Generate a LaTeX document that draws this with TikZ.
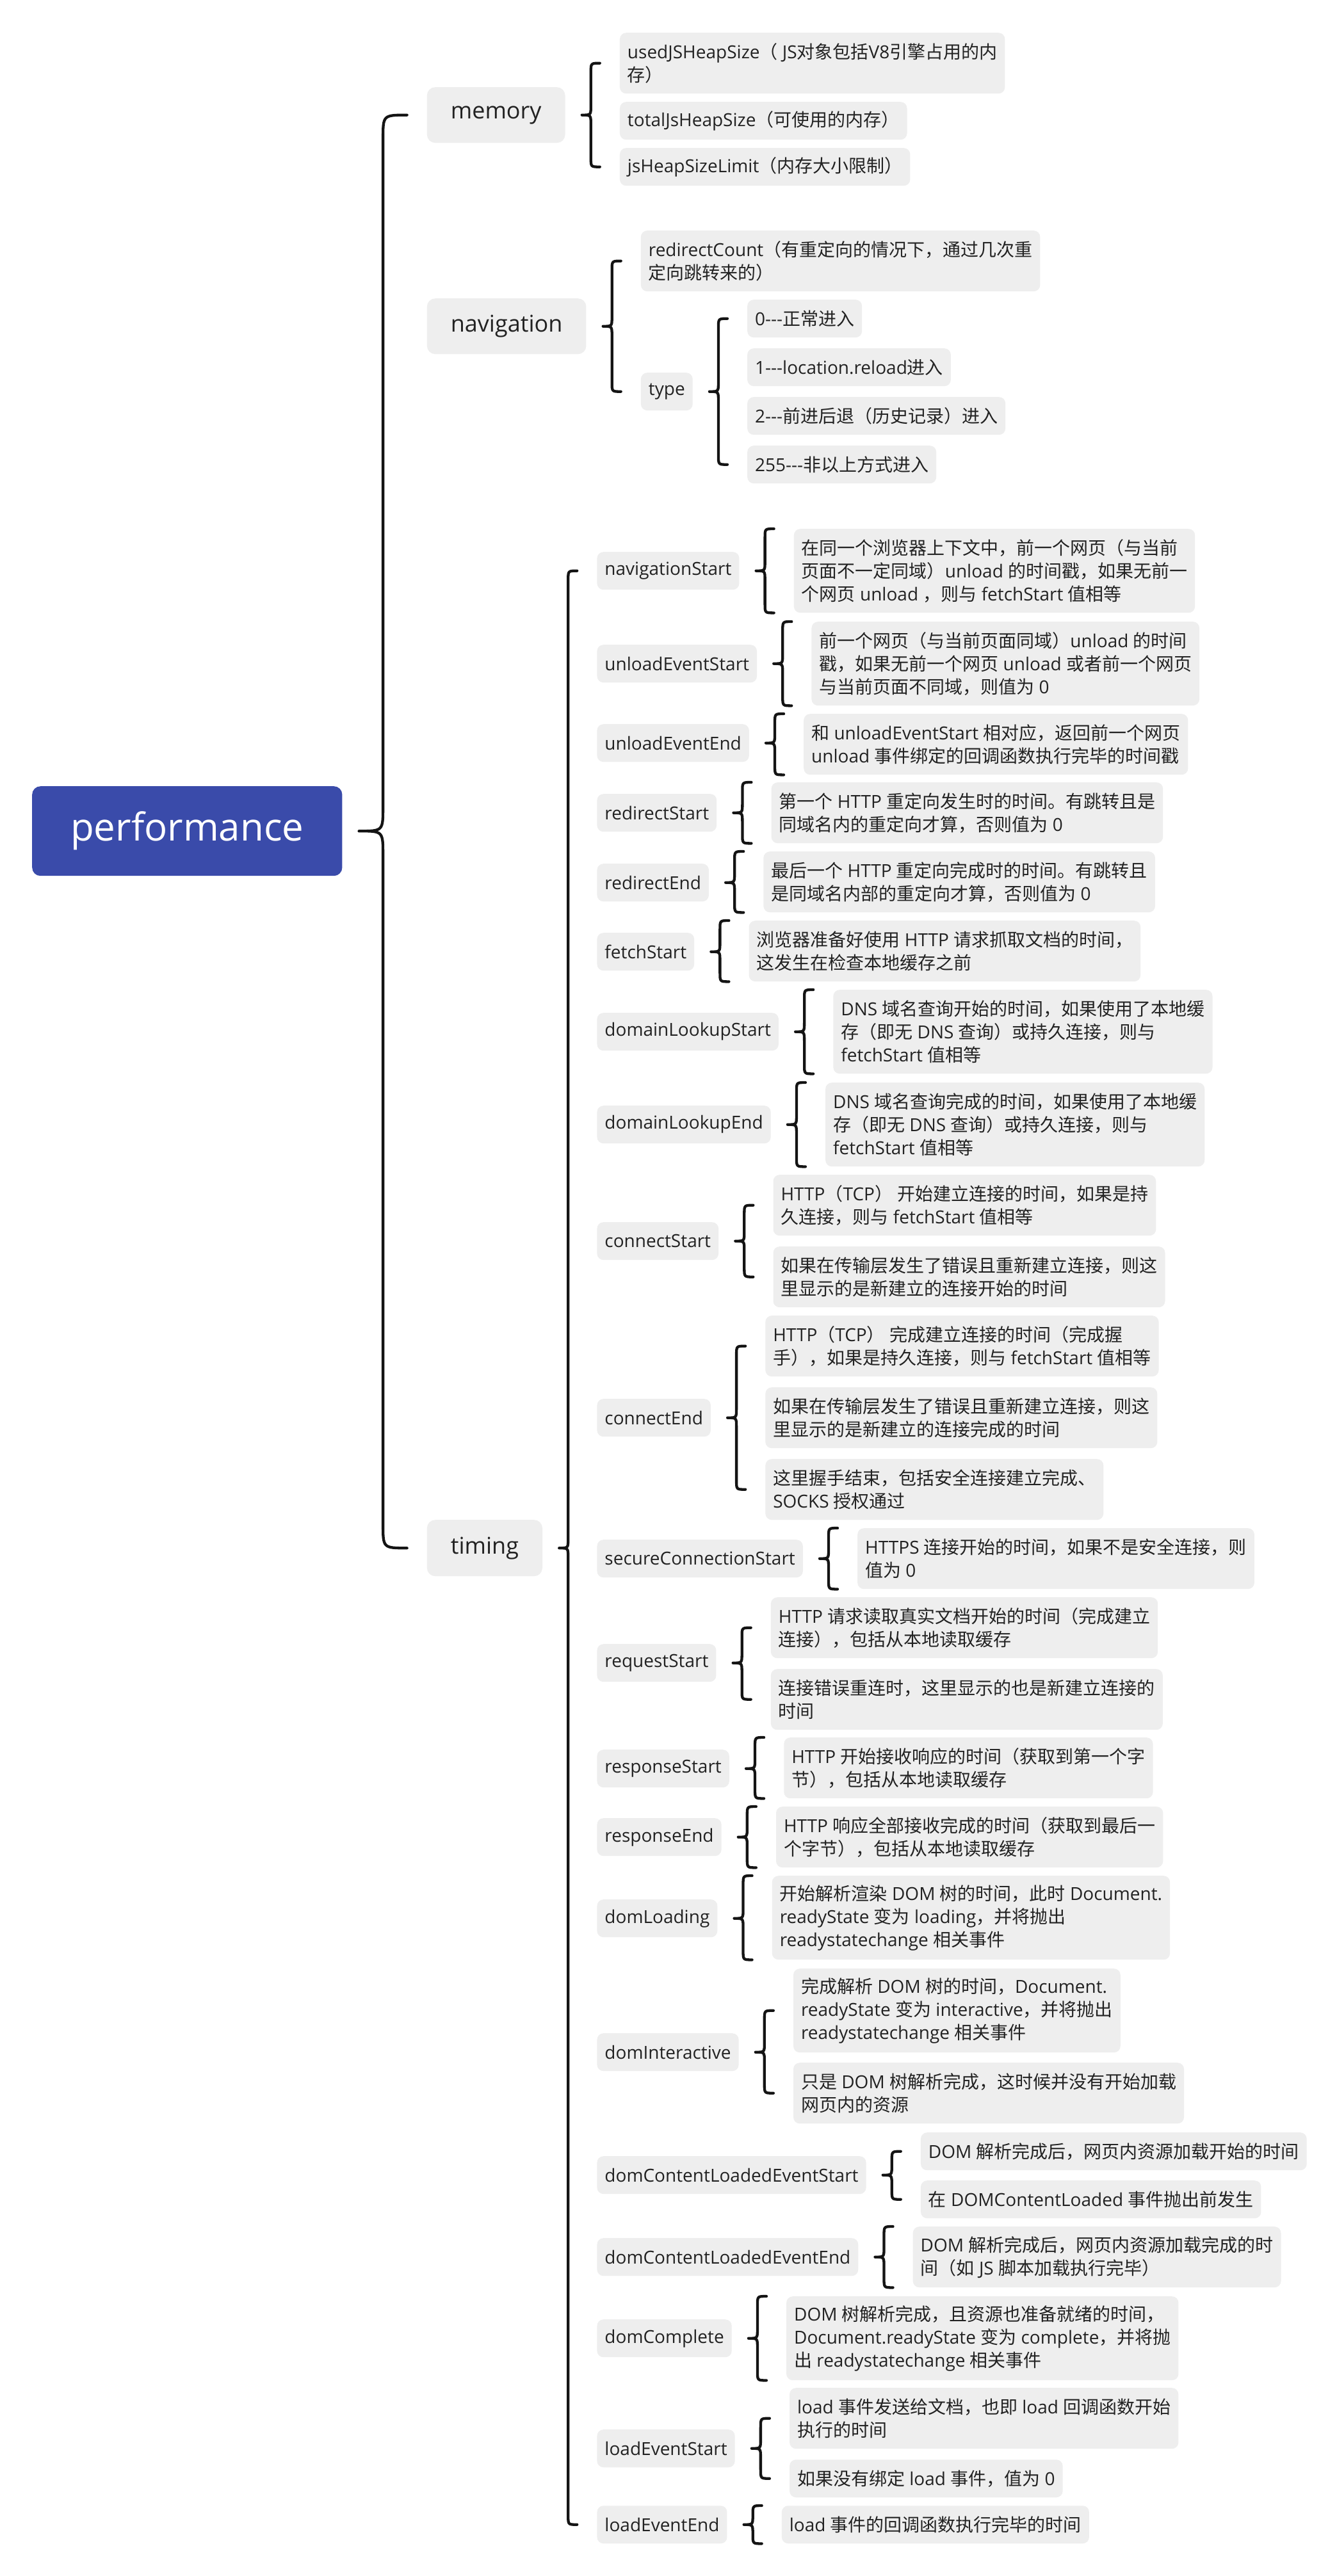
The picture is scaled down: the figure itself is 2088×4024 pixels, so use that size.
\documentclass[tikz,border=0pt]{standalone}
\usepackage{fontspec}
\newfontfamily\latf{Open Sans}
\newfontfamily\cjkf{Noto Sans CJK SC}
\XeTeXinterchartokenstate=1
\newXeTeXintercharclass\cjkcls
\newcount\cjkcnt
\cjkcnt="3000 \loop\XeTeXcharclass\cjkcnt=\cjkcls\advance\cjkcnt by 1 \ifnum\cjkcnt<"3040 \repeat
\cjkcnt="4E00 \loop\XeTeXcharclass\cjkcnt=\cjkcls\advance\cjkcnt by 1 \ifnum\cjkcnt<"A000 \repeat
\cjkcnt="FF00 \loop\XeTeXcharclass\cjkcnt=\cjkcls\advance\cjkcnt by 1 \ifnum\cjkcnt<"FFF0 \repeat
\XeTeXinterchartoks 0 \cjkcls = {\cjkf}
\XeTeXinterchartoks 4095 \cjkcls = {\cjkf}
\XeTeXinterchartoks \cjkcls 0 = {\latf}
\XeTeXinterchartoks \cjkcls 4095 = {\latf}

\definecolor{lfc}{RGB}{238,238,238}
\definecolor{txc}{RGB}{34,34,34}
\definecolor{rootc}{RGB}{58,75,170}
\definecolor{brcc}{RGB}{20,20,20}

\tikzset{
  basebox/.style={rounded corners=10pt, fill=lfc, text=txc, align=left, inner ysep=0pt,
    font=\fontsize{28}{36}\selectfont\latf},
  leaf/.style={basebox, inner xsep=12pt},
  keybox/.style={basebox, inner xsep=12pt, align=center},
  lone/.style={basebox, inner xsep=37pt, rounded corners=13pt, align=center,
    font=\fontsize{36}{44}\selectfont\latf},
  rootbox/.style={rounded corners=13pt, fill=rootc, text=white, inner xsep=60pt, inner ysep=0pt,
    font=\fontsize{60}{70}\selectfont\latf},
  bracestyle/.style={draw=brcc, line width=4.3pt, line cap=round, line join=round},
}

\newdimen\tmpx \newdimen\tmpy
\def\bgapa{26}\def\bgapb{31}

% generic placement: style, name, parent, gap, ytop, height, text
\newcommand\place[7][leaf]{%
  \pgfextractx{\tmpx}{\pgfpointanchor{#3}{east}}%
  \pgfmathsetmacro\nodexx{\tmpx+#4}%
  \node[#1,minimum height=#6pt,anchor=north west] (#2) at (\nodexx pt,-#5pt) {#7};}
% leaf: style, name, parent, ytop, lines, text
\newcommand\lf[6][leaf]{\pgfmathsetmacro\lfh{23+36*#5}\place[#1]{#2}{#3}{85}{#4}{\lfh}{#6}}

% brace: opts, parent, top node, top anchor, bottom node, bottom anchor
\newcommand\brc[6][]{%
  \pgfextractx{\tmpx}{\pgfpointanchor{#2}{east}}\pgfmathsetmacro\bzpx{\tmpx}%
  \pgfextracty{\tmpy}{\pgfpointanchor{#2}{east}}\pgfmathsetmacro\bzcy{\tmpy}%
  \pgfextractx{\tmpx}{\pgfpointanchor{#3}{#4}}\pgfmathsetmacro\bzqx{\tmpx}%
  \pgfextracty{\tmpy}{\pgfpointanchor{#3}{#4}}\pgfmathsetmacro\bzty{\tmpy}%
  \pgfextracty{\tmpy}{\pgfpointanchor{#5}{#6}}\pgfmathsetmacro\bzby{\tmpy}%
  \pgfmathsetmacro\bzxa{\bzpx+\bgapa}%
  \pgfmathsetmacro\bzxe{\bzqx-\bgapb}%
  \pgfmathsetmacro\bzxm{(\bzxa+\bzxe)/2}%
  \pgfmathsetmacro\bzr{min((\bzxe-\bzxa)/2,(\bzty-\bzcy)/2,(\bzcy-\bzby)/2)}%
  \pgfmathsetmacro\bzya{\bzty-\bzr}\pgfmathsetmacro\bzyb{\bzcy+\bzr}%
  \pgfmathsetmacro\bzyc{\bzcy-\bzr}\pgfmathsetmacro\bzyd{\bzby+\bzr}%
  \draw[bracestyle,#1] (\bzxe pt,\bzty pt) .. controls (\bzxm pt,\bzty pt) .. (\bzxm pt,\bzya pt)
    -- (\bzxm pt,\bzyb pt) .. controls (\bzxm pt,\bzcy pt) .. (\bzxa pt,\bzcy pt)
    .. controls (\bzxm pt,\bzcy pt) .. (\bzxm pt,\bzyc pt)
    -- (\bzxm pt,\bzyd pt) .. controls (\bzxm pt,\bzby pt) .. (\bzxe pt,\bzby pt);}

\newcommand\dsh{-\kern0pt-\kern0pt-}

\begin{document}
\begin{tikzpicture}
\fill[white] (0pt,0pt) rectangle (2088pt,-4024pt);
\useasboundingbox (0pt,0pt) rectangle (2088pt,-4024pt);

% root and level 1
\node[rootbox,minimum height=140pt,anchor=north west] (root) at (50pt,-1228pt) {performance};
\place[lone]{memory}{root}{132}{136}{87}{memory}
\place[lone]{navigation}{root}{132}{466}{87}{navigation}
\place[lone]{timing}{root}{132}{2374}{88}{timing}

% memory
\lf{m1}{memory}{51}{2}{usedJSHeapSize（ JS对象包括V8引擎占用的内\\存）}
\lf{m2}{memory}{159}{1}{totalJsHeapSize（可使用的内存）}
\lf{m3}{memory}{231}{1}{jsHeapSizeLimit（内存大小限制）}

% navigation
\lf{nrc}{navigation}{360}{2}{redirectCount（有重定向的情况下，通过几次重\\定向跳转来的）}
\lf[keybox]{type}{navigation}{582}{1}{type}
\lf{t0}{type}{468}{1}{0\dsh 正常进入}
\lf{t1}{type}{544}{1}{1\dsh location.reload进入}
\lf{t2}{type}{620}{1}{2\dsh 前进后退（历史记录）进入}
\lf{t3}{type}{696}{1}{255\dsh 非以上方式进入}

% timing keys
\lf[keybox]{ns}{timing}{862}{1}{navigationStart}
\lf[keybox]{ues}{timing}{1007}{1}{unloadEventStart}
\lf[keybox]{uee}{timing}{1131}{1}{unloadEventEnd}
\lf[keybox]{rs}{timing}{1240}{1}{redirectStart}
\lf[keybox]{re}{timing}{1349}{1}{redirectEnd}
\lf[keybox]{fs}{timing}{1457}{1}{fetchStart}
\lf[keybox]{dls}{timing}{1582}{1}{domainLookupStart}
\lf[keybox]{dle}{timing}{1727}{1}{domainLookupEnd}
\lf[keybox]{cs}{timing}{1909}{1}{connectStart}
\lf[keybox]{ce}{timing}{2185}{1}{connectEnd}
\lf[keybox]{scs}{timing}{2405}{1}{secureConnectionStart}
\lf[keybox]{rqs}{timing}{2568}{1}{requestStart}
\lf[keybox]{rps}{timing}{2733}{1}{responseStart}
\lf[keybox]{rpe}{timing}{2840}{1}{responseEnd}
\lf[keybox]{dl}{timing}{2967}{1}{domLoading}
\lf[keybox]{di}{timing}{3176}{1}{domInteractive}
\lf[keybox]{dcs}{timing}{3368}{1}{domContentLoadedEventStart}
\lf[keybox]{dce}{timing}{3496}{1}{domContentLoadedEventEnd}
\lf[keybox]{dc}{timing}{3623}{1}{domComplete}
\lf[keybox]{les}{timing}{3795}{1}{loadEventStart}
\lf[keybox]{lee}{timing}{3914}{1}{loadEventEnd}

% timing leaves
\lf{nsA}{ns}{826}{3}{在同一个浏览器上下文中，前一个网页（与当前\\页面不一定同域）unload 的时间戳，如果无前一\\个网页 unload ，则与 fetchStart 值相等}
\lf{uesA}{ues}{971}{3}{前一个网页（与当前页面同域）unload 的时间\\戳，如果无前一个网页 unload 或者前一个网页\\与当前页面不同域，则值为 0}
\lf{ueeA}{uee}{1115}{2}{和 unloadEventStart 相对应，返回前一个网页\\unload 事件绑定的回调函数执行完毕的时间戳}
\lf{rsA}{rs}{1222}{2}{第一个 HTTP 重定向发生时的时间。有跳转且是\\同域名内的重定向才算，否则值为 0}
\lf{reA}{re}{1330}{2}{最后一个 HTTP 重定向完成时的时间。有跳转且\\是同域名内部的重定向才算，否则值为 0}
\lf{fsA}{fs}{1438}{2}{浏览器准备好使用 HTTP 请求抓取文档的时间，\\这发生在检查本地缓存之前}
\lf{dlsA}{dls}{1546}{3}{DNS 域名查询开始的时间，如果使用了本地缓\\存（即无 DNS 查询）或持久连接，则与\\fetchStart 值相等}
\lf{dleA}{dle}{1691}{3}{DNS 域名查询完成的时间，如果使用了本地缓\\存（即无 DNS 查询）或持久连接，则与\\fetchStart 值相等}
\lf{csA}{cs}{1835}{2}{HTTP（TCP） 开始建立连接的时间，如果是持\\久连接，则与 fetchStart 值相等}
\lf{csB}{cs}{1947}{2}{如果在传输层发生了错误且重新建立连接，则这\\里显示的是新建立的连接开始的时间}
\lf{ceA}{ce}{2055}{2}{HTTP（TCP） 完成建立连接的时间（完成握\\手），如果是持久连接，则与 fetchStart 值相等}
\lf{ceB}{ce}{2167}{2}{如果在传输层发生了错误且重新建立连接，则这\\里显示的是新建立的连接完成的时间}
\lf{ceC}{ce}{2279}{2}{这里握手结束，包括安全连接建立完成、\\SOCKS 授权通过}
\lf{scsA}{scs}{2387}{2}{HTTPS 连接开始的时间，如果不是安全连接，则\\值为 0}
\lf{rqsA}{rqs}{2495}{2}{HTTP 请求读取真实文档开始的时间（完成建立\\连接），包括从本地读取缓存}
\lf{rqsB}{rqs}{2607}{2}{连接错误重连时，这里显示的也是新建立连接的\\时间}
\lf{rpsA}{rps}{2714}{2}{HTTP 开始接收响应的时间（获取到第一个字\\节），包括从本地读取缓存}
\lf{rpeA}{rpe}{2822}{2}{HTTP 响应全部接收完成的时间（获取到最后一\\个字节），包括从本地读取缓存}
\lf{dlA}{dl}{2930}{3}{开始解析渲染 DOM 树的时间，此时 Document.\\readyState 变为 loading，并将抛出\\readystatechange 相关事件}
\lf{diA}{di}{3075}{3}{完成解析 DOM 树的时间，Document.\\readyState 变为 interactive，并将抛出\\readystatechange 相关事件}
\lf{diB}{di}{3222}{2}{只是 DOM 树解析完成，这时候并没有开始加载\\网页内的资源}
\lf{dcsA}{dcs}{3331}{1}{DOM 解析完成后，网页内资源加载开始的时间}
\lf{dcsB}{dcs}{3406}{1}{在 DOMContentLoaded 事件抛出前发生}
\lf{dceA}{dce}{3478}{2}{DOM 解析完成后，网页内资源加载完成的时\\间（如 JS 脚本加载执行完毕）}
\lf{dcA}{dc}{3587}{3}{DOM 树解析完成，且资源也准备就绪的时间，\\Document.readyState 变为 complete，并将抛\\出 readystatechange 相关事件}
\lf{lesA}{les}{3730}{2}{load 事件发送给文档，也即 load 回调函数开始\\执行的时间}
\lf{lesB}{les}{3842}{1}{如果没有绑定 load 事件，值为 0}
\lf{leeA}{lee}{3914}{1}{load 事件的回调函数执行完毕的时间}

% braces
\brc{root}{memory}{west}{timing}{west}
\brc{memory}{m1}{west}{m3}{west}
\brc{navigation}{nrc}{west}{type}{west}
\brc{type}{t0}{west}{t3}{west}
\brc{timing}{ns}{west}{lee}{west}
\brc{ns}{nsA}{north west}{nsA}{south west}
\brc{ues}{uesA}{north west}{uesA}{south west}
\brc{uee}{ueeA}{north west}{ueeA}{south west}
\brc{rs}{rsA}{north west}{rsA}{south west}
\brc{re}{reA}{north west}{reA}{south west}
\brc{fs}{fsA}{north west}{fsA}{south west}
\brc{dls}{dlsA}{north west}{dlsA}{south west}
\brc{dle}{dleA}{north west}{dleA}{south west}
\brc{cs}{csA}{west}{csB}{west}
\brc{ce}{ceA}{west}{ceC}{west}
\brc{scs}{scsA}{north west}{scsA}{south west}
\brc{rqs}{rqsA}{west}{rqsB}{west}
\brc{rps}{rpsA}{north west}{rpsA}{south west}
\brc{rpe}{rpeA}{north west}{rpeA}{south west}
\brc{dl}{dlA}{north west}{dlA}{south west}
\brc{di}{diA}{west}{diB}{west}
\brc{dcs}{dcsA}{west}{dcsB}{west}
\brc{dce}{dceA}{north west}{dceA}{south west}
\brc{dc}{dcA}{north west}{dcA}{south west}
\brc{les}{lesA}{west}{lesB}{west}
\brc{lee}{leeA}{north west}{leeA}{south west}
\end{tikzpicture}
\end{document}
